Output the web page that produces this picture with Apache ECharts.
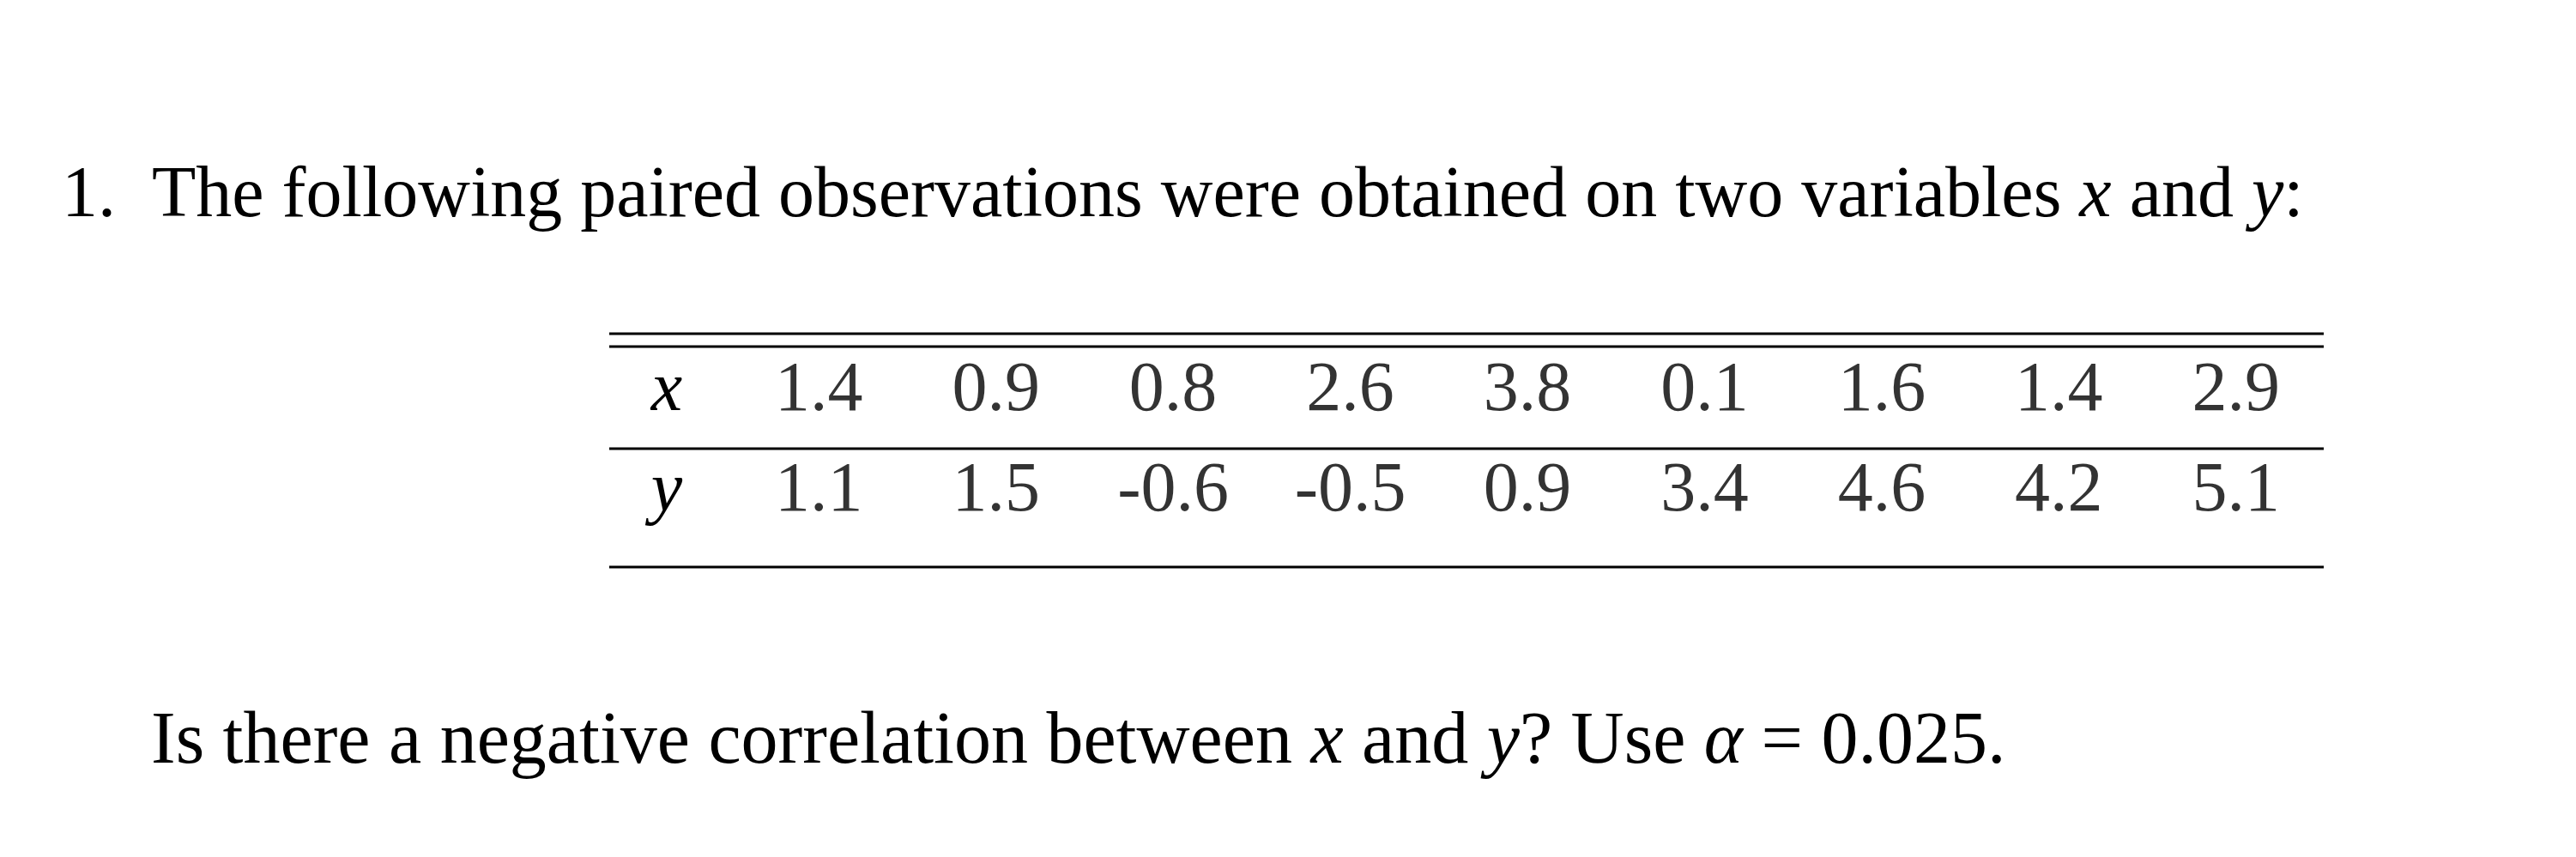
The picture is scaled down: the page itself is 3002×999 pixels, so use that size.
<!DOCTYPE html>
<html>
<head>
<meta charset="utf-8">
<script src="https://cdn.jsdelivr.net/npm/echarts@6/dist/echarts.min.js"></script>
<style>body{margin:0;background:#fff}#chart{width:3002px;height:999px}</style>
</head>
<body>
<div id="chart"></div>
<script>
// table contents
const rowNames = ['x', 'y'];
const xValues = ['1.4', '0.9', '0.8', '2.6', '3.8', '0.1', '1.6', '1.4', '2.9'];
const yValues = ['1.1', '1.5', '-0.6', '-0.5', '0.9', '3.4', '4.6', '4.2', '5.1'];
const columns = xValues.map((_, i) => 'c' + i);

const FONT = 'Liberation Serif';
const SIZE = 84;
const CELL = 82;
const rule = (y, w) => ({
  type: 'line', shape: { x1: 710, y1: y, x2: 2708, y2: y },
  style: { stroke: '#000', lineWidth: w }
});

const cells = [];
rowNames.forEach((r, ri) => {
  const vals = ri === 0 ? xValues : yValues;
  vals.forEach((v, ci) => cells.push([columns[ci], r, v]));
});

const chart = echarts.init(document.getElementById('chart'));
chart.setOption({
  backgroundColor: '#fff',
  animation: false,
  grid: { left: 851, width: 1858, top: 398, height: 234 },
  xAxis: { type: 'category', data: columns, show: false },
  yAxis: { type: 'category', data: rowNames, inverse: true, show: false },
  series: [{
    type: 'scatter',
    data: cells,
    symbolSize: 0,
    label: {
      show: true, position: 'inside',
      formatter: p => p.data[2],
      fontFamily: FONT, fontSize: CELL, color: '#000'
    }
  }],
  graphic: [
    rule(389, 3), rule(404, 3), rule(523, 3), rule(661, 3),
    ...rowNames.map((r, i) => ({
      type: 'text', x: 777, y: 456 + i * 117,
      style: { text: r, font: `italic ${CELL}px "${FONT}"`, fill: '#000',
               align: 'center', verticalAlign: 'middle' }
    })),
    {
      type: 'text', x: 72, y: 230,
      style: {
        text: '1.  The following paired observations were obtained on two variables {i|x} and {i|y}:',
        font: `${SIZE}px "${FONT}"`, fill: '#000', verticalAlign: 'middle',
        rich: { i: { fontStyle: 'italic', fontFamily: FONT, fontSize: SIZE } }
      }
    },
    {
      type: 'text', x: 176, y: 866,
      style: {
        text: 'Is there a negative correlation between {i|x} and {i|y}? Use {i|α} = 0.025.',
        font: `${SIZE + 2}px "${FONT}"`, fill: '#000', verticalAlign: 'middle',
        rich: { i: { fontStyle: 'italic', fontFamily: FONT, fontSize: SIZE + 2 } }
      }
    }
  ]
});
</script>
</body>
</html>
